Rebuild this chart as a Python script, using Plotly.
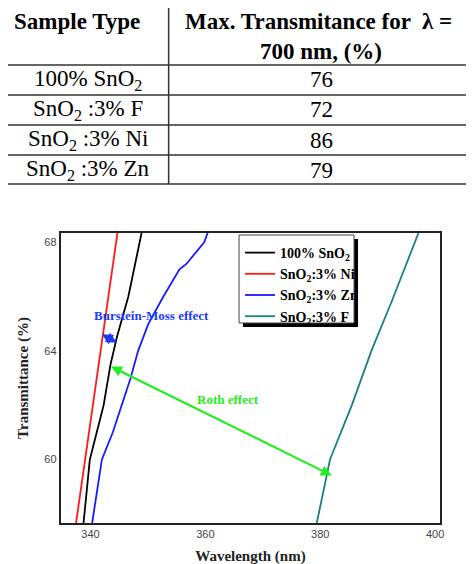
import plotly.graph_objects as go

W, H = 474, 564
# table data
sample_types = ["100% SnO<sub>2</sub>", "SnO<sub>2</sub> :3% F", "SnO<sub>2</sub> :3% Ni", "SnO<sub>2</sub> :3% Zn"]
max_trans = [76, 72, 86, 79]

# curves (wavelength nm, transmittance %)
ni_x = [337.5, 344.7]; ni_y = [57.66, 68.34]
sno2_x = [338.8, 339.9, 342.3, 343.5, 344.6, 346.6, 348.9]
sno2_y = [57.66, 60.0, 62.0, 63.5, 64.5, 66.0, 68.34]
zn_x = [340.3, 342.0, 343.9, 345.5, 347.0, 348.3, 350.1, 352.7, 355.5, 356.7, 359.8, 360.4]
zn_y = [57.66, 60.0, 61.0, 62.0, 63.0, 64.0, 65.0, 66.0, 67.0, 67.2, 68.0, 68.34]
f_x = [379.4, 381.7, 385.5, 388.9, 392.4, 397.1]
f_y = [57.66, 60.0, 62.0, 64.0, 65.8, 68.34]

def py(p):
    return 1 - p / H

def px(p):
    return p / W

fig = go.Figure()
fig.add_trace(go.Scatter(x=sno2_x, y=sno2_y, mode="lines", line=dict(color="black", width=1.8), name="<b>100% SnO<sub>2</sub></b>"))
fig.add_trace(go.Scatter(x=ni_x, y=ni_y, mode="lines", line=dict(color="#ff1a1a", width=1.8), name="<b>SnO<sub>2</sub>:3% Ni</b>"))
fig.add_trace(go.Scatter(x=zn_x, y=zn_y, mode="lines", line=dict(color="#1a1aff", width=1.8), name="<b>SnO<sub>2</sub>:3% Zn</b>"))
fig.add_trace(go.Scatter(x=f_x, y=f_y, mode="lines", line=dict(color="#1a8080", width=1.8), name="<b>SnO<sub>2</sub>:3% F</b>"))

shapes = []
anns = []
# table lines
for yy in [57, 87, 117, 147, 176]:
    shapes.append(dict(type="line", xref="paper", yref="paper", x0=0, x1=1, y0=py(yy), y1=py(yy), line=dict(color="#333", width=1.5)))
shapes.append(dict(type="line", xref="paper", yref="paper", x0=px(162), x1=px(162), y0=py(0), y1=py(176), line=dict(color="#333", width=1.5)))
tf = dict(family="Liberation Serif", size=23, color="black")
def ta(x, y, text, xa="center"):
    anns.append(dict(xref="paper", yref="paper", x=px(x), y=py(y), xanchor=xa, yanchor="middle",
                     text=text, showarrow=False, font=tf))
ta(70, 13, "<b>Sample Type</b>")
ta(176, 14, "<b>Max. Transmitance for  λ =</b>", "left")
ta(316, 43, "<b>700 nm, (%)</b>")
for i, (s, v) in enumerate(zip(sample_types, max_trans)):
    yc = 72 + 30 * i
    ta(81, yc, s)
    ta(316, yc, str(v))

# arrows
def dbl_arrow(x0, y0, x1, y1, color):
    for (a, b, c, d) in [(x0, y0, x1, y1), (x1, y1, x0, y0)]:
        anns.append(dict(x=a, y=b, ax=c, ay=d, xref="x", yref="y", axref="x", ayref="y", text="", showarrow=True,
                         arrowhead=2, arrowsize=1.2, arrowwidth=1.8, arrowcolor=color))
dbl_arrow(342.0, 64.61, 344.6, 64.3, "#1a3cff")
dbl_arrow(343.6, 63.42, 382.0, 59.41, "#22ee22")
anns.append(dict(x=350.6, y=65.3, xref="x", yref="y", text="<b>Burstein-Moss effect</b>", showarrow=False,
                 font=dict(family="Liberation Serif", size=13, color="#1a3cff")))
anns.append(dict(x=363.9, y=62.2, xref="x", yref="y", text="<b>Roth effect</b>", showarrow=False,
                 font=dict(family="Liberation Serif", size=13, color="#22ee22")))
# legend shadow
shapes.append(dict(type="rect", xref="paper", yref="paper", x0=px(237), x1=px(353), y0=py(319), y1=py(231),
                   fillcolor="black", line=dict(width=0), layer="below"))
shapes.append(dict(type="rect", xref="paper", yref="paper", x0=px(233), x1=px(349), y0=py(315), y1=py(227),
                   fillcolor="white", line=dict(color="#444", width=1), layer="below"))

fig.update_layout(
    width=W, height=H, margin=dict(l=0, r=0, t=0, b=0),
    paper_bgcolor="white", plot_bgcolor="white",
    shapes=shapes, annotations=anns,
    legend=dict(x=px(234), y=py(229), xanchor="left", yanchor="top", bgcolor="rgba(0,0,0,0)",
                font=dict(family="Liberation Serif", size=14, color="black"), tracegroupgap=0, itemwidth=30),
    font=dict(family="Liberation Serif"),
    xaxis=dict(domain=[px(53), px(436)], range=[334.8, 400.9], tickvals=[340, 360, 380, 400], showgrid=False,
               zeroline=False, showline=True, mirror=True, linecolor="#222", linewidth=1.5, ticks="",
               tickfont=dict(family="Liberation Sans", size=11, color="#444"),
               title=dict(text="<b>Wavelength (nm)</b>", font=dict(size=15, color="#222"), standoff=12),
               anchor="y"),
    yaxis=dict(domain=[py(515), py(225)], range=[57.66, 68.34], tickvals=[60, 64, 68], showgrid=False,
               zeroline=False, showline=True, mirror=True, linecolor="#222", linewidth=1.5, ticks="",
               tickfont=dict(family="Liberation Sans", size=11, color="#444"),
               title=dict(text="<b>Transmittance (%)</b>", font=dict(size=15, color="#222"), standoff=12),
               anchor="x"),
)
fig.write_html("out.html")
